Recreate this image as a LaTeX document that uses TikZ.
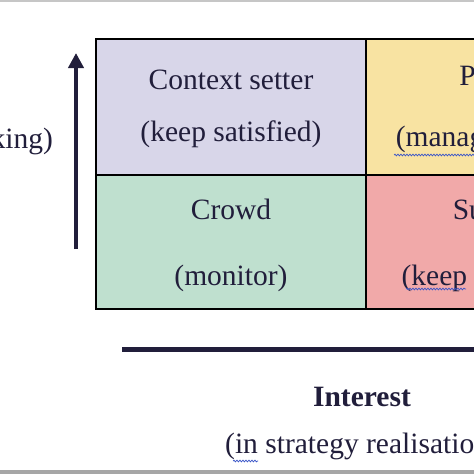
\documentclass[tikz,border=0pt]{standalone}
\usepackage{fontspec}
\setmainfont{Liberation Serif}
\usetikzlibrary{arrows.meta,decorations.pathmorphing}

\definecolor{ink}{HTML}{211E3B}
\definecolor{lav}{HTML}{D8D6E9}
\definecolor{yel}{HTML}{F8E3A2}
\definecolor{grn}{HTML}{BFE0CF}
\definecolor{pnk}{HTML}{F1A9A9}
\definecolor{spell}{HTML}{3A55C8}
\definecolor{topbar}{HTML}{C6C6C6}
\definecolor{botbar}{HTML}{A6A6A6}

\newcommand{\qsize}{\fontsize{29.5}{35}\selectfont}

\tikzset{
  lbl/.style={anchor=base,inner sep=0pt,text=ink,font=\qsize},
  axis/.style={draw=ink,line width=4.5pt},
  wavy/.style={draw=spell,line width=0.7pt,decorate,
    decoration={snake,amplitude=0.9pt,segment length=3pt}},
}

\begin{document}
\begin{tikzpicture}[x=1pt,y=-1pt]
\useasboundingbox (0,0) rectangle (474,474);
\clip (0,0) rectangle (474,474);
\fill[white] (0,0) rectangle (474,474);
\fill[topbar] (0,0) rectangle (474,2);
\fill[botbar] (0,470) rectangle (474,474);

% quadrants
\fill[lav] (96,39) rectangle (366,175);
\fill[yel] (366,39) rectangle (640,175);
\fill[grn] (96,175) rectangle (366,309);
\fill[pnk] (366,175) rectangle (640,309);
\draw[line width=1.5pt] (96,39) rectangle (640,309);
\draw[line width=1.5pt] (96,175) -- (640,175);
\draw[line width=1.5pt] (366,39) -- (366,309);

\node[lbl] (ctx)  at (231,89)  {Context setter};
\node[lbl] (ctxa) at (231,141) {(keep satisfied)};
\node[lbl] (ply)  at (497,85)  {Player};
\node[lbl] (plya) at (497,146) {(manage closely)};

\node[lbl] (crd)  at (231,219) {Crowd};
\node[lbl] (crda) at (231,285) {(monitor)};
\node[lbl] (sub)  at (497,219) {Subject};
\node[lbl] (suba) at (497,285) {(keep informed)};

% axes
\coordinate (vbot) at (76,249);
\coordinate (vtop) at (76,53);
\draw[axis,-{Triangle[width=15pt,length=15pt]}] (vbot) -- (vtop);
\node[lbl,anchor=base east] (pow) at (53,148) {(in decision making)};

\coordinate (hl) at (122,349.5);
\coordinate (hr) at (602,349.5);
\draw[axis] (hl) -- (hr);
\node[lbl,font=\qsize\bfseries] (int) at (362,406) {Interest};
\node[lbl] (inta) at (362,453) {(in strategy realisation)};

% spell check marks
\draw[wavy] (394,155) -- (520,155);
\draw[wavy] (406,289) -- (466,289);
\draw[wavy] (233,461) -- (258,461);

\end{tikzpicture}
\end{document}
